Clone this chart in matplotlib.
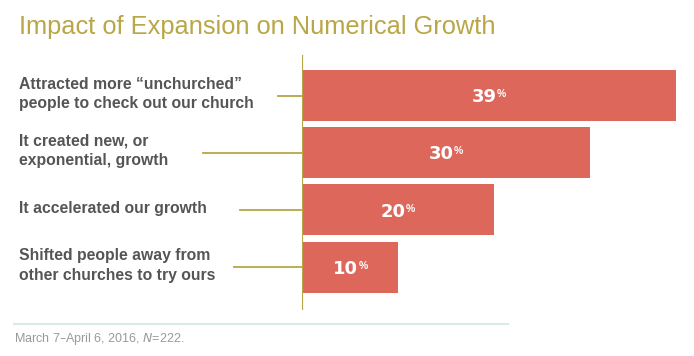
import matplotlib
matplotlib.use("Agg")
import matplotlib.pyplot as plt
from matplotlib.lines import Line2D
import matplotlib.transforms as mtransforms

categories = [
    "Attracted more \u201cunchurched\u201d\npeople to check out our church",
    "It created new, or\nexponential, growth",
    "It accelerated our growth",
    "Shifted people away from\nother churches to try ours",
]
values = [39, 30, 20, 10]

W, H = 694, 356
DPI = 100
fig = plt.figure(figsize=(W / DPI, H / DPI), dpi=DPI)
fig.patch.set_facecolor("white")

GOLD = "#b9a646"
BAR = "#dd675b"
LABEL = "#555555"

# axes: left at 301.7px, top 55px, bottom 310px
x0, x1 = 301.7, 301.7 + 40 * 9.58
ytop, ybot = 55, 310
ax = fig.add_axes([x0 / W, 1 - ybot / H, (x1 - x0) / W, (ybot - ytop) / H])
pitch = 57.2
c0 = 95.5
ax.set_xlim(0, 40)
ax.set_ylim((ybot - c0) / pitch, (ytop - c0) / pitch)
ax.axis("off")
ax.add_line(Line2D([0, 0], [0, 1], transform=ax.transAxes, color=GOLD, lw=1.6,
                   solid_capstyle="butt"))

ypos = list(range(len(values)))
ax.barh(ypos, values, height=0.89, color=BAR, left=0.05)

blend = mtransforms.blended_transform_factory(fig.transFigure, ax.transData)

# tick connectors (start positions in px)
tick_start = [278, 203, 240, 234]
for y, xs in zip(ypos, tick_start):
    fig.add_artist(Line2D([xs / W, x0 / W], [y, y], transform=blend, color=GOLD, lw=1.3))

for y, lab in zip(ypos, categories):
    fig.text(19 / W, y - 0.03, lab, transform=blend, ha="left", va="center",
             fontsize=11.3, color=LABEL, family="Liberation Sans", weight="bold",
             linespacing=1.38)

nums = []
for y, v in zip(ypos, values):
    t = ax.text(v / 2 - 0.45, y + 0.03, f"{v}", ha="center", va="center", fontsize=13,
                color="white", weight="bold", family="DejaVu Sans")
    nums.append(t)

fig.canvas.draw()
r = fig.canvas.get_renderer()
for t in nums:
    bb = t.get_window_extent(r)
    ax.annotate("%", xy=(bb.x1 + 0.5, bb.y1 - 1), xycoords="figure pixels", ha="left", va="top",
                fontsize=7.5, color="white", weight="bold", family="Liberation Sans")

fig.text(19 / W, 1 - 27 / H, "Impact of Expansion on Numerical Growth", ha="left", va="center",
         fontsize=18.3, color=GOLD, family="Liberation Sans")

fig.add_artist(Line2D([14 / W, 508 / W], [1 - 324 / H] * 2, color="#d8ebe8", lw=1.5))
fig.text(14 / W, 1 - 339 / H, "March 7\u2013April 6, 2016, $\\it{N}$=222.", ha="left", va="center",
         fontsize=9, color="#9a9a9a", family="Liberation Sans")

fig.savefig("out.png", dpi=DPI, facecolor="white")
